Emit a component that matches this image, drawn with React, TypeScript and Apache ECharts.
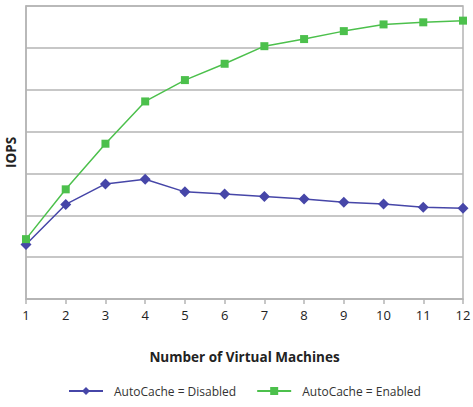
import React, { useEffect, useRef } from "react";
import * as echarts from "echarts";

const categories = ["1", "2", "3", "4", "5", "6", "7", "8", "9", "10", "11", "12"];
const disabledValues = [1.3, 2.26, 2.75, 2.86, 2.56, 2.51, 2.45, 2.39, 2.31, 2.27, 2.19, 2.17];
const enabledValues = [1.43, 2.62, 3.71, 4.72, 5.23, 5.62, 6.04, 6.21, 6.4, 6.56, 6.61, 6.65];
const seriesNames = ["AutoCache = Disabled", "AutoCache = Enabled"];

const FONT = "'Open Sans', 'Noto Sans', sans-serif";

export default function App() {
  const ref = useRef<HTMLDivElement>(null);
  useEffect(() => {
    if (!ref.current) return;
    const chart = echarts.init(ref.current, undefined, { renderer: "svg" });
    chart.setOption({
      animation: false,
      backgroundColor: "#ffffff",
      textStyle: { fontFamily: FONT },
      grid: {
        left: 26,
        right: 10,
        top: 6,
        bottom: 108,
        show: true,
        borderColor: "#b4b4b4",
        borderWidth: 1.5,
        containLabel: false,
        outerBoundsMode: "none",
      },
      legend: {
        top: 380,
        left: 63,
        itemWidth: 34,
        itemHeight: 10,
        itemGap: 20,
        textStyle: { fontFamily: FONT, fontSize: 12, color: "#333", padding: [0, 0, 0, 6] },
        data: seriesNames,
      },
      xAxis: {
        type: "category",
        data: categories,
        boundaryGap: false,
        name: "Number of Virtual Machines",
        nameLocation: "middle",
        nameGap: 51,
        nameTextStyle: { fontFamily: FONT, fontSize: 13.5, fontWeight: "bold", color: "#222" },
        axisLine: { lineStyle: { color: "#b4b4b4", width: 1.5 } },
        axisTick: { show: true, length: 5, lineStyle: { color: "#b4b4b4", width: 1.5 } },
        axisLabel: { fontFamily: FONT, fontSize: 13, color: "#222", margin: 9 },
        splitLine: { show: false },
      },
      yAxis: {
        type: "value",
        min: 0,
        max: 7,
        interval: 1,
        name: "IOPS",
        nameLocation: "middle",
        nameGap: 8,
        nameTextStyle: { fontFamily: FONT, fontSize: 13.5, fontWeight: "bold", color: "#222" },
        axisLine: { show: true, lineStyle: { color: "#b4b4b4", width: 1.5 } },
        axisTick: { show: false },
        axisLabel: { show: false },
        splitLine: { show: true, lineStyle: { color: "#b4b4b4", width: 1.5 } },
      },
      series: [
        {
          name: seriesNames[0],
          type: "line",
          data: disabledValues,
          symbol: "diamond",
          symbolSize: 11,
          itemStyle: { color: "#4646a8" },
          lineStyle: { color: "#4646a8", width: 1.5 },
        },
        {
          name: seriesNames[1],
          type: "line",
          data: enabledValues,
          symbol: "rect",
          symbolSize: 8,
          itemStyle: { color: "#4cc04c" },
          lineStyle: { color: "#4cc04c", width: 1.5 },
        },
      ],
    });
    return () => chart.dispose();
  }, []);
  return <div ref={ref} style={{ width: 473, height: 407, position: "absolute", left: 0, top: 0 }} />;
}
